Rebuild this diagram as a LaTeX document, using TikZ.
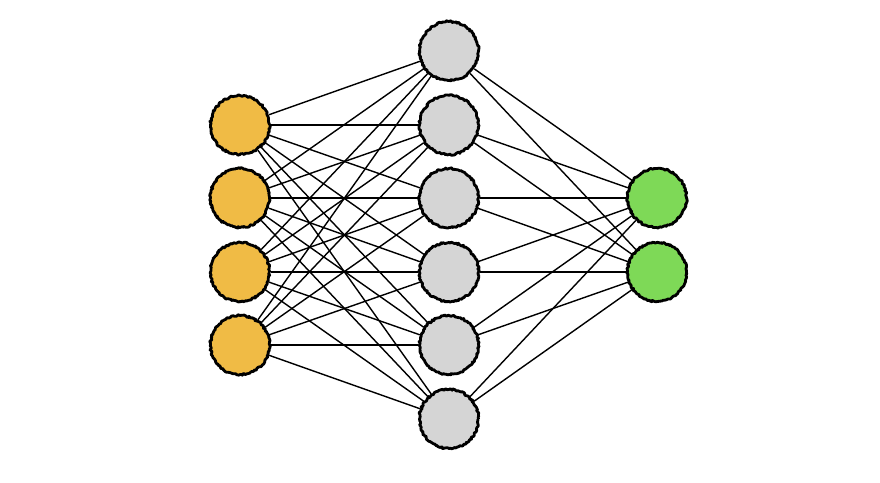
\documentclass[tikz,border=0pt]{standalone}
\usetikzlibrary{decorations.pathmorphing}
\definecolor{inc}{HTML}{F0BB45}
\definecolor{hidc}{HTML}{D5D5D5}
\definecolor{outc}{HTML}{7ED957}
\begin{document}
\begin{tikzpicture}[x=0.02cm,y=-0.02cm,
  neuron/.style={circle,minimum size=1.18cm,inner sep=0pt,draw=black,line width=1.6pt,line join=round,
    decorate,decoration={random steps,segment length=0.8pt,amplitude=0.5pt}},
  link/.style={line width=0.8pt}]
\useasboundingbox (0,0) rectangle (880,483);
\foreach \i/\y in {1/125,2/198,3/272,4/345} \node[neuron,fill=inc] (i\i) at (240,\y) {};
\foreach \i/\y in {1/51,2/125,3/198,4/272,5/345,6/419} \node[neuron,fill=hidc] (h\i) at (449,\y) {};
\foreach \i/\y in {1/198,2/272} \node[neuron,fill=outc] (o\i) at (657,\y) {};
\foreach \a in {1,...,4} \foreach \b in {1,...,6} \draw[link] (i\a) -- (h\b);
\foreach \a in {1,...,6} \foreach \b in {1,2} \draw[link] (h\a) -- (o\b);
\end{tikzpicture}
\end{document}
